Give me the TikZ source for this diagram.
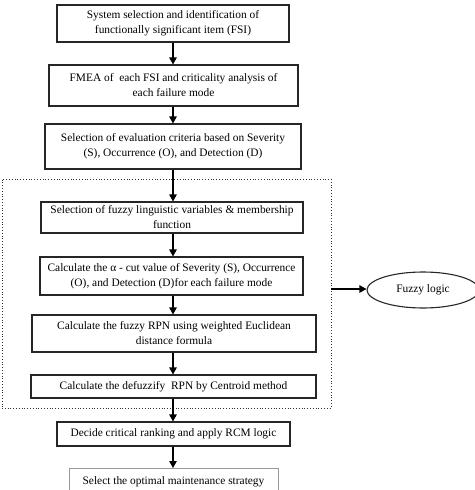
\documentclass[tikz,border=0pt]{standalone}
\usepackage{fontspec}
\setmainfont{Liberation Serif}
\usetikzlibrary{arrows.meta,shapes.geometric}
\begin{document}
\begin{tikzpicture}[x=1pt,y=-1pt,
  box/.style={draw=black!85,line width=1.1pt,inner sep=0pt,align=center,font=\fontsize{11.4}{15}\selectfont},
  arr/.style={line width=1.1pt,-{Triangle[length=7pt,width=7.5pt]}}]
\useasboundingbox (0,0) rectangle (474,490);
\node[box,minimum width=232,minimum height=37] (b1) at (173,23.5) {System selection and identification of\\functionally significant item (FSI)};
\node[box,minimum width=249,minimum height=41] (b2) at (173.5,85.5) {FMEA of\ \ each FSI and criticality analysis of\\each failure mode};
\node[box,minimum width=256,minimum height=45] (b3) at (173,146.5) {Selection of evaluation criteria based on Severity\\(S), Occurrence (O), and Detection (D)};
\node[draw=black!80,dotted,line width=0.8pt,minimum width=329,minimum height=229,inner sep=0pt] (fz) at (166.5,293.5) {};
\node[box,minimum width=262,minimum height=31] (b4) at (172,217.5) {Selection of fuzzy linguistic variables \& membership\\function};
\node[box,minimum width=263,minimum height=38] (b5) at (171.5,276) {Calculate the α - cut value of Severity (S), Occurrence\\(O), and Detection (D)for each failure mode};
\node[box,minimum width=284,minimum height=37] (b6) at (174,333.5) {Calculate the fuzzy RPN using weighted Euclidean\\distance formula};
\node[box,minimum width=285,minimum height=23] (b7) at (173.5,386.5) {Calculate the defuzzify\ \ RPN by Centroid method};
\node[box,minimum width=233,minimum height=24] (b8) at (173.5,434) {Decide critical ranking and apply RCM logic};
\node[box,draw=black!40,line width=0.9pt,minimum width=209,minimum height=28,anchor=north] (b9) at (173.5,468) {\raisebox{4pt}{Select the optimal maintenance strategy}};
\node[draw=black!85,line width=1.1pt,ellipse,minimum width=112,minimum height=36,inner sep=0pt,font=\fontsize{11.4}{15}\selectfont] (fl) at (423,290) {Fuzzy logic};
\draw[arr] (b1.south -| 173,0) -- (b2.north -| 173,0);
\draw[arr] (b2.south -| 173,0) -- (b3.north -| 173,0);
\draw[arr] (b3.south -| 173,0) -- (b4.north -| 173,0);
\draw[arr] (b4.south -| 173,0) -- (b5.north -| 173,0);
\draw[arr] (b5.south -| 173,0) -- (b6.north -| 173,0);
\draw[arr] (b6.south -| 173,0) -- (b7.north -| 173,0);
\draw[arr] (b7.south -| 173,0) -- (b8.north -| 173,0);
\draw[arr] (b8.south -| 173,0) -- (b9.north -| 173,0);
\draw[arr] (fz.east |- 0,289) -- (fl.west |- 0,289);
\end{tikzpicture}
\end{document}
